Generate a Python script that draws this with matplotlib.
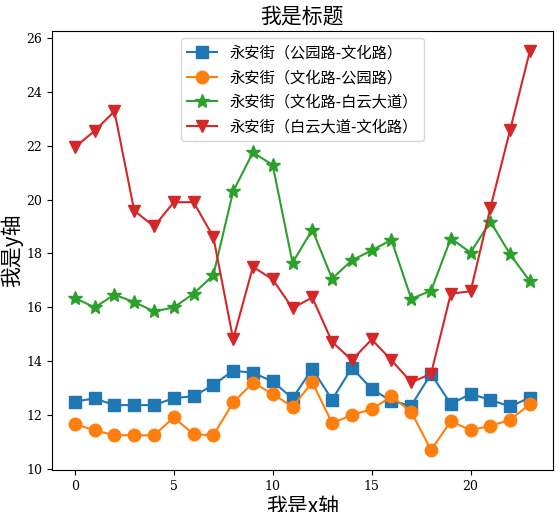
import matplotlib
matplotlib.use("Agg")
import matplotlib.pyplot as plt

plt.rcParams['font.family'] = ['Noto Sans CJK SC', 'DejaVu Sans']
plt.rcParams['axes.unicode_minus'] = False

hours = list(range(24))
gy_wh = [12.49, 12.61, 12.36, 12.36, 12.36, 12.62, 12.69, 13.11, 13.64, 13.56, 13.24, 12.61,
         13.71, 12.56, 13.75, 12.96, 12.51, 12.34, 13.52, 12.40, 12.78, 12.55, 12.31, 12.64]
wh_gy = [11.65, 11.43, 11.24, 11.24, 11.24, 11.90, 11.28, 11.24, 12.46, 13.19, 12.78, 12.29,
         13.21, 11.69, 11.99, 12.21, 12.68, 12.11, 10.69, 11.76, 11.43, 11.59, 11.81, 12.40]
wh_by = [16.34, 15.99, 16.46, 16.19, 15.84, 15.99, 16.50, 17.19, 20.30, 21.75, 21.28, 17.65,
         18.88, 17.06, 17.74, 18.11, 18.50, 16.31, 16.61, 18.55, 18.03, 19.18, 17.96, 16.96]
by_wh = [21.94, 22.55, 23.28, 19.59, 19.00, 19.90, 19.90, 18.61, 14.81, 17.50, 17.03, 15.96,
         16.36, 14.71, 14.03, 14.80, 14.03, 13.21, 13.52, 16.50, 16.59, 19.69, 22.59, 25.53]
labels = ['永安街（公园路-文化路）', '永安街（文化路-公园路）',
          '永安街（文化路-白云大道）', '永安街（白云大道-文化路）']

fig, ax = plt.subplots(figsize=(5.6, 5.12), dpi=100)
ax.plot(hours, gy_wh, marker='s', markersize=9, label=labels[0])
ax.plot(hours, wh_gy, marker='o', markersize=9, label=labels[1])
ax.plot(hours, wh_by, marker='*', markersize=10, label=labels[2])
ax.plot(hours, by_wh, marker='v', markersize=9, label=labels[3])

ax.set_title('我是标题', fontsize=15)
ax.set_xlabel('我是x轴', fontsize=15, labelpad=2)
ax.set_ylabel('我是y轴', fontsize=15, labelpad=2)
ax.tick_params(labelsize=9)
for t in ax.get_xticklabels() + ax.get_yticklabels():
    t.set_family('DejaVu Serif')
ax.legend(loc='upper center', fontsize=11)

fig.subplots_adjust(left=0.093, right=0.987, top=0.94, bottom=0.082)
fig.savefig('out.png')
